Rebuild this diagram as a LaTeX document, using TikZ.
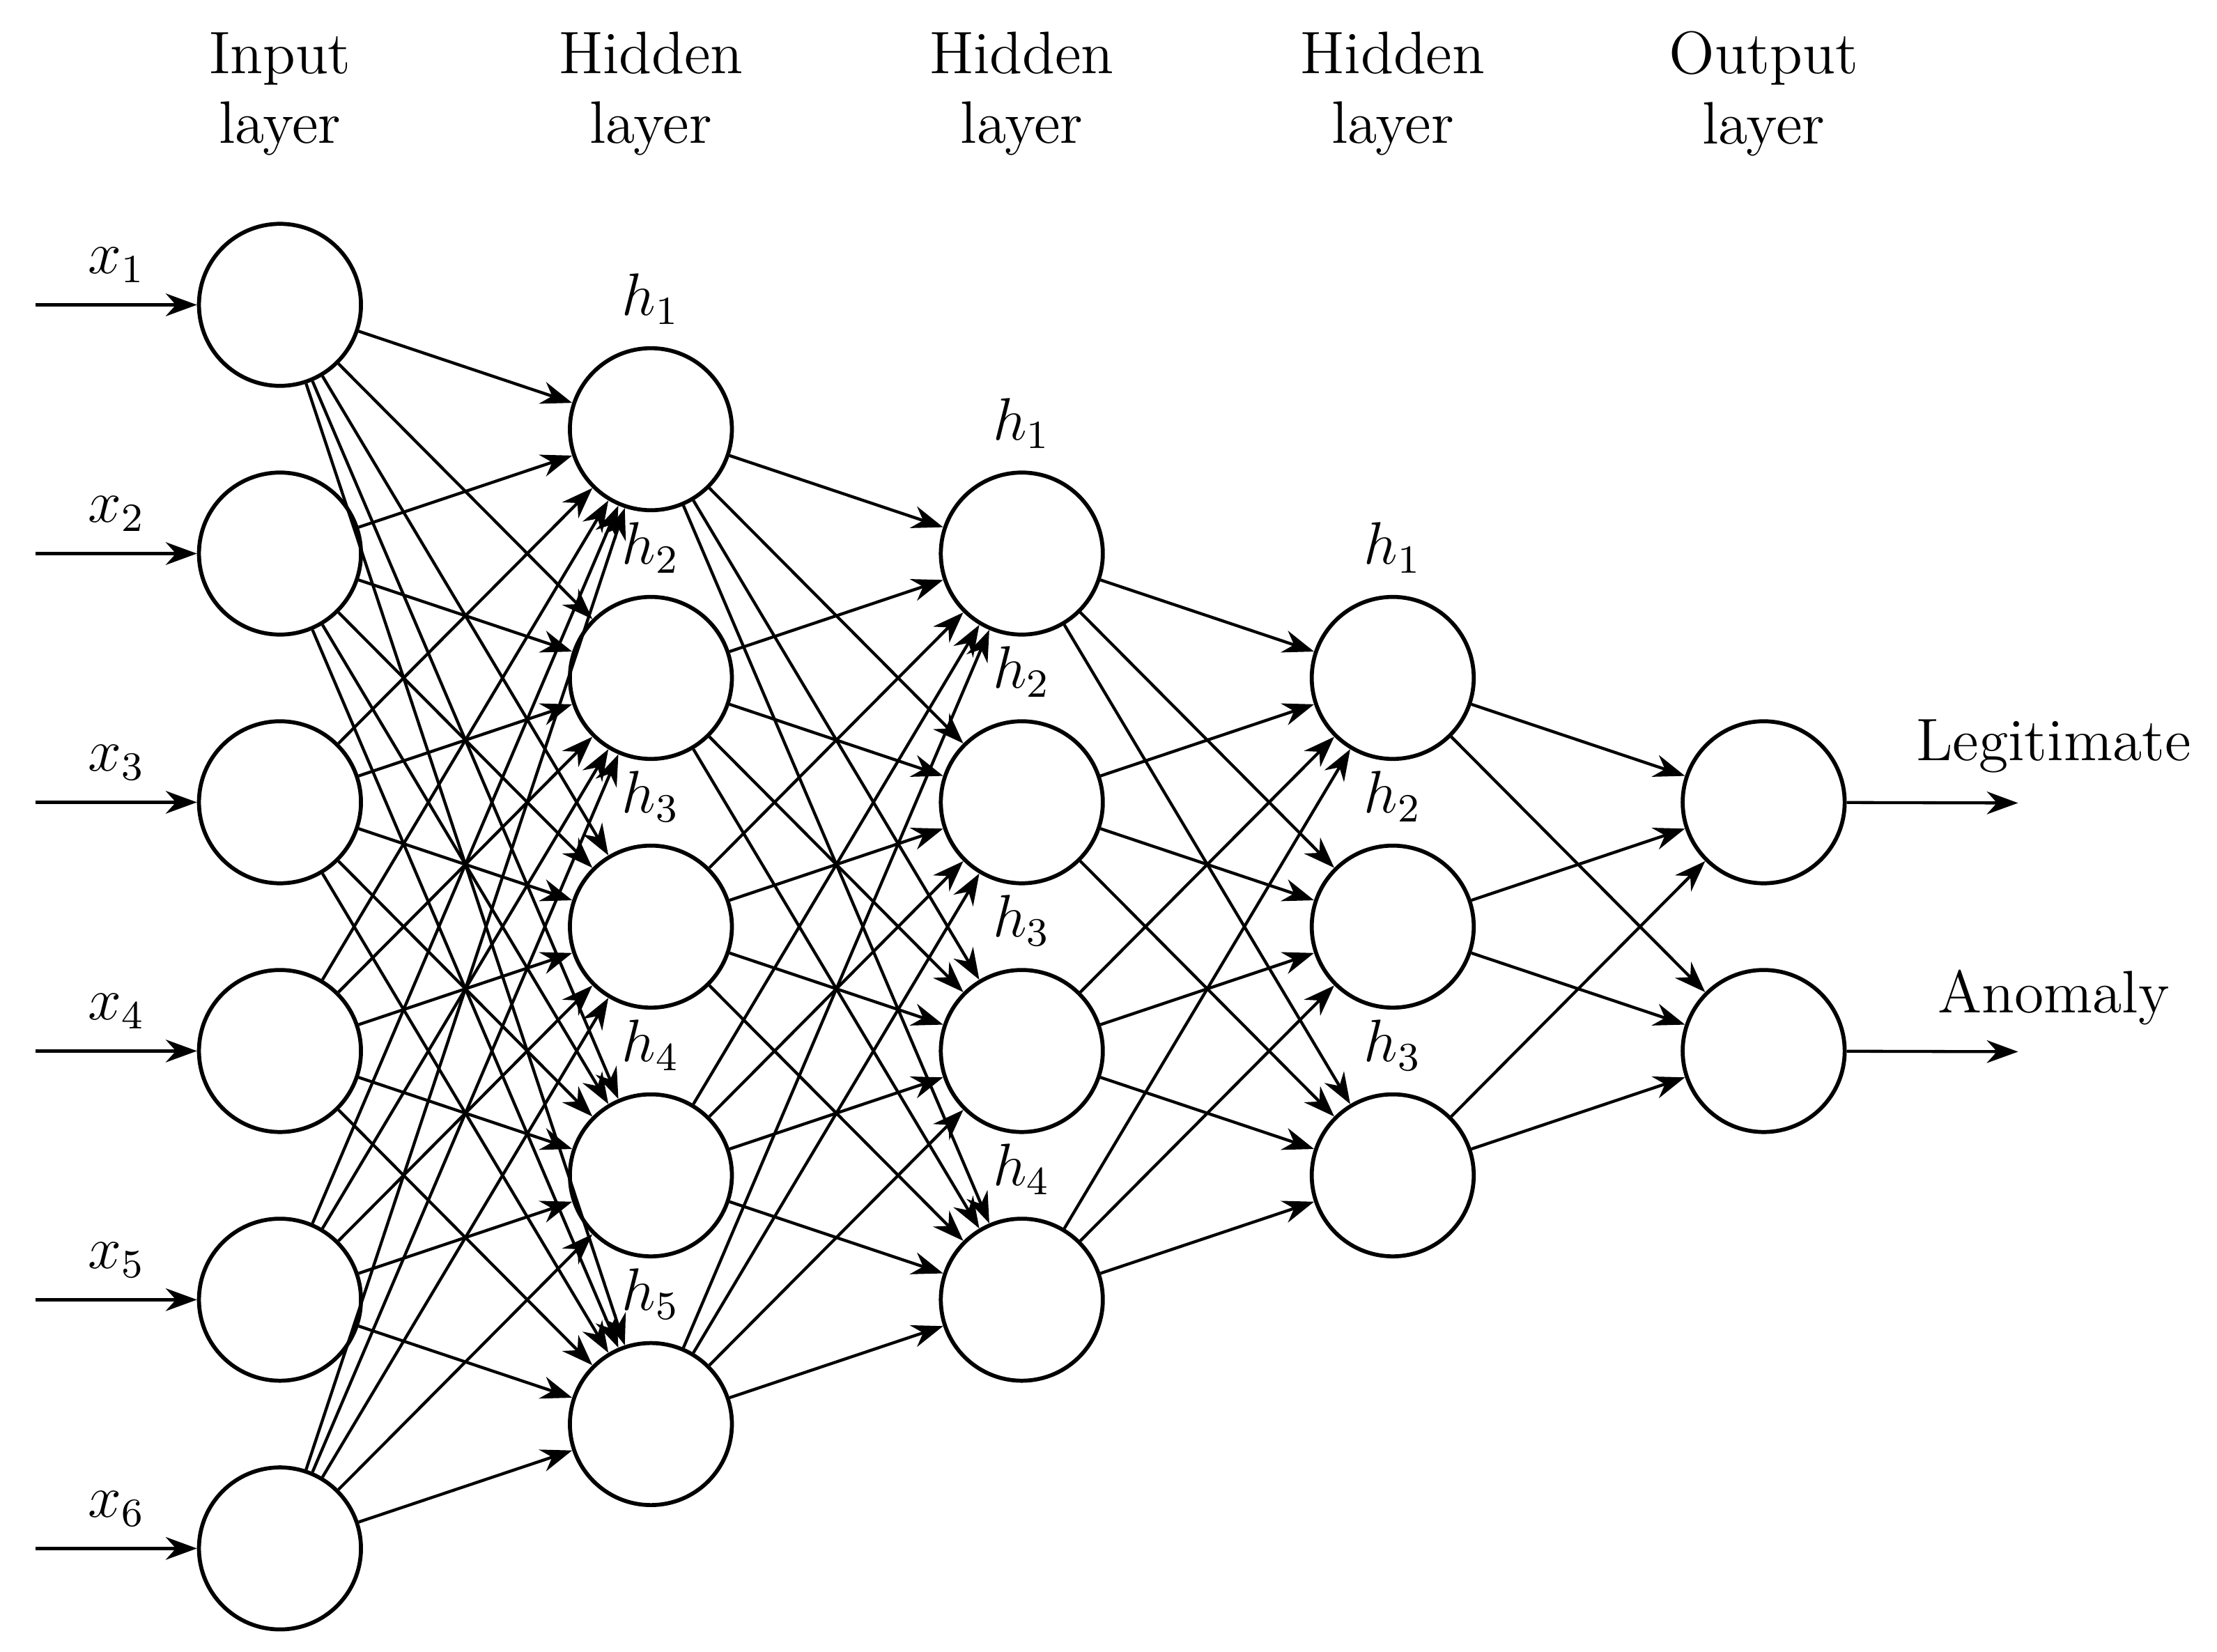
\documentclass[tikz,border=0pt]{standalone}
\usetikzlibrary{arrows.meta}
\tikzset{
  neuron/.style={circle, draw, thick, minimum size=1.14cm, inner sep=0pt},
  conn/.style={-{Stealth[length=2.2mm,width=1.6mm]}, semithick},
  lbl/.style={font=\large},
}
\begin{document}
\begin{tikzpicture}
  \useasboundingbox (0,0) rectangle (15.6,11.62);
  % layers: x position, number of nodes
  \foreach \n in {1,...,6}
    \node[neuron] (I\n) at (1.97, {5.1+1.75*(3.5-\n)}) {};
  \foreach \n in {1,...,5}
    \node[neuron] (A\n) at (4.58, {5.1+1.75*(3-\n)}) {};
  \foreach \n in {1,...,4}
    \node[neuron] (B\n) at (7.19, {5.1+1.75*(2.5-\n)}) {};
  \foreach \n in {1,...,3}
    \node[neuron] (C\n) at (9.80, {5.1+1.75*(2-\n)}) {};
  \foreach \n in {1,2}
    \node[neuron] (O\n) at (12.41, {5.1+1.75*(1.5-\n)}) {};

  % labels of hidden nodes
  \foreach \n in {1,...,5}
    \node[lbl, above=0.3mm] at (A\n.north) {$h_{\n}$};
  \foreach \n in {1,...,4}
    \node[lbl, above=0.3mm] at (B\n.north) {$h_{\n}$};
  \foreach \n in {1,...,3}
    \node[lbl, above=0.3mm] at (C\n.north) {$h_{\n}$};

  % inputs
  \foreach \n in {1,...,6} {
    \coordinate (in\n) at (0.25, {5.1+1.75*(3.5-\n)});
    \draw[conn] (in\n) -- (I\n);
    \node[lbl] at (0.82, {5.1+1.75*(3.5-\n)+0.28}) {$x_{\n}$};
  }

  % connections
  \foreach \i in {1,...,6}
    \foreach \j in {1,...,5}
      \draw[conn] (I\i) -- (A\j);
  \foreach \i in {1,...,5}
    \foreach \j in {1,...,4}
      \draw[conn] (A\i) -- (B\j);
  \foreach \i in {1,...,4}
    \foreach \j in {1,...,3}
      \draw[conn] (B\i) -- (C\j);
  \foreach \i in {1,...,3}
    \foreach \j in {1,2}
      \draw[conn] (C\i) -- (O\j);

  % outputs
  \coordinate (out1) at (14.2, 5.97);
  \coordinate (out2) at (14.2, 4.22);
  \draw[conn] (O1) -- (out1);
  \draw[conn] (O2) -- (out2);
  \node[lbl] at (14.45, 6.37) {Legitimate};
  \node[lbl] at (14.45, 4.6) {Anomaly};

  % headers
  \node[lbl, align=center] at (1.97, 10.96) {Input\\layer};
  \node[lbl, align=center] at (4.58, 10.96) {Hidden\\layer};
  \node[lbl, align=center] at (7.19, 10.96) {Hidden\\layer};
  \node[lbl, align=center] at (9.80, 10.96) {Hidden\\layer};
  \node[lbl, align=center] at (12.41, 10.96) {Output\\layer};
\end{tikzpicture}
\end{document}
